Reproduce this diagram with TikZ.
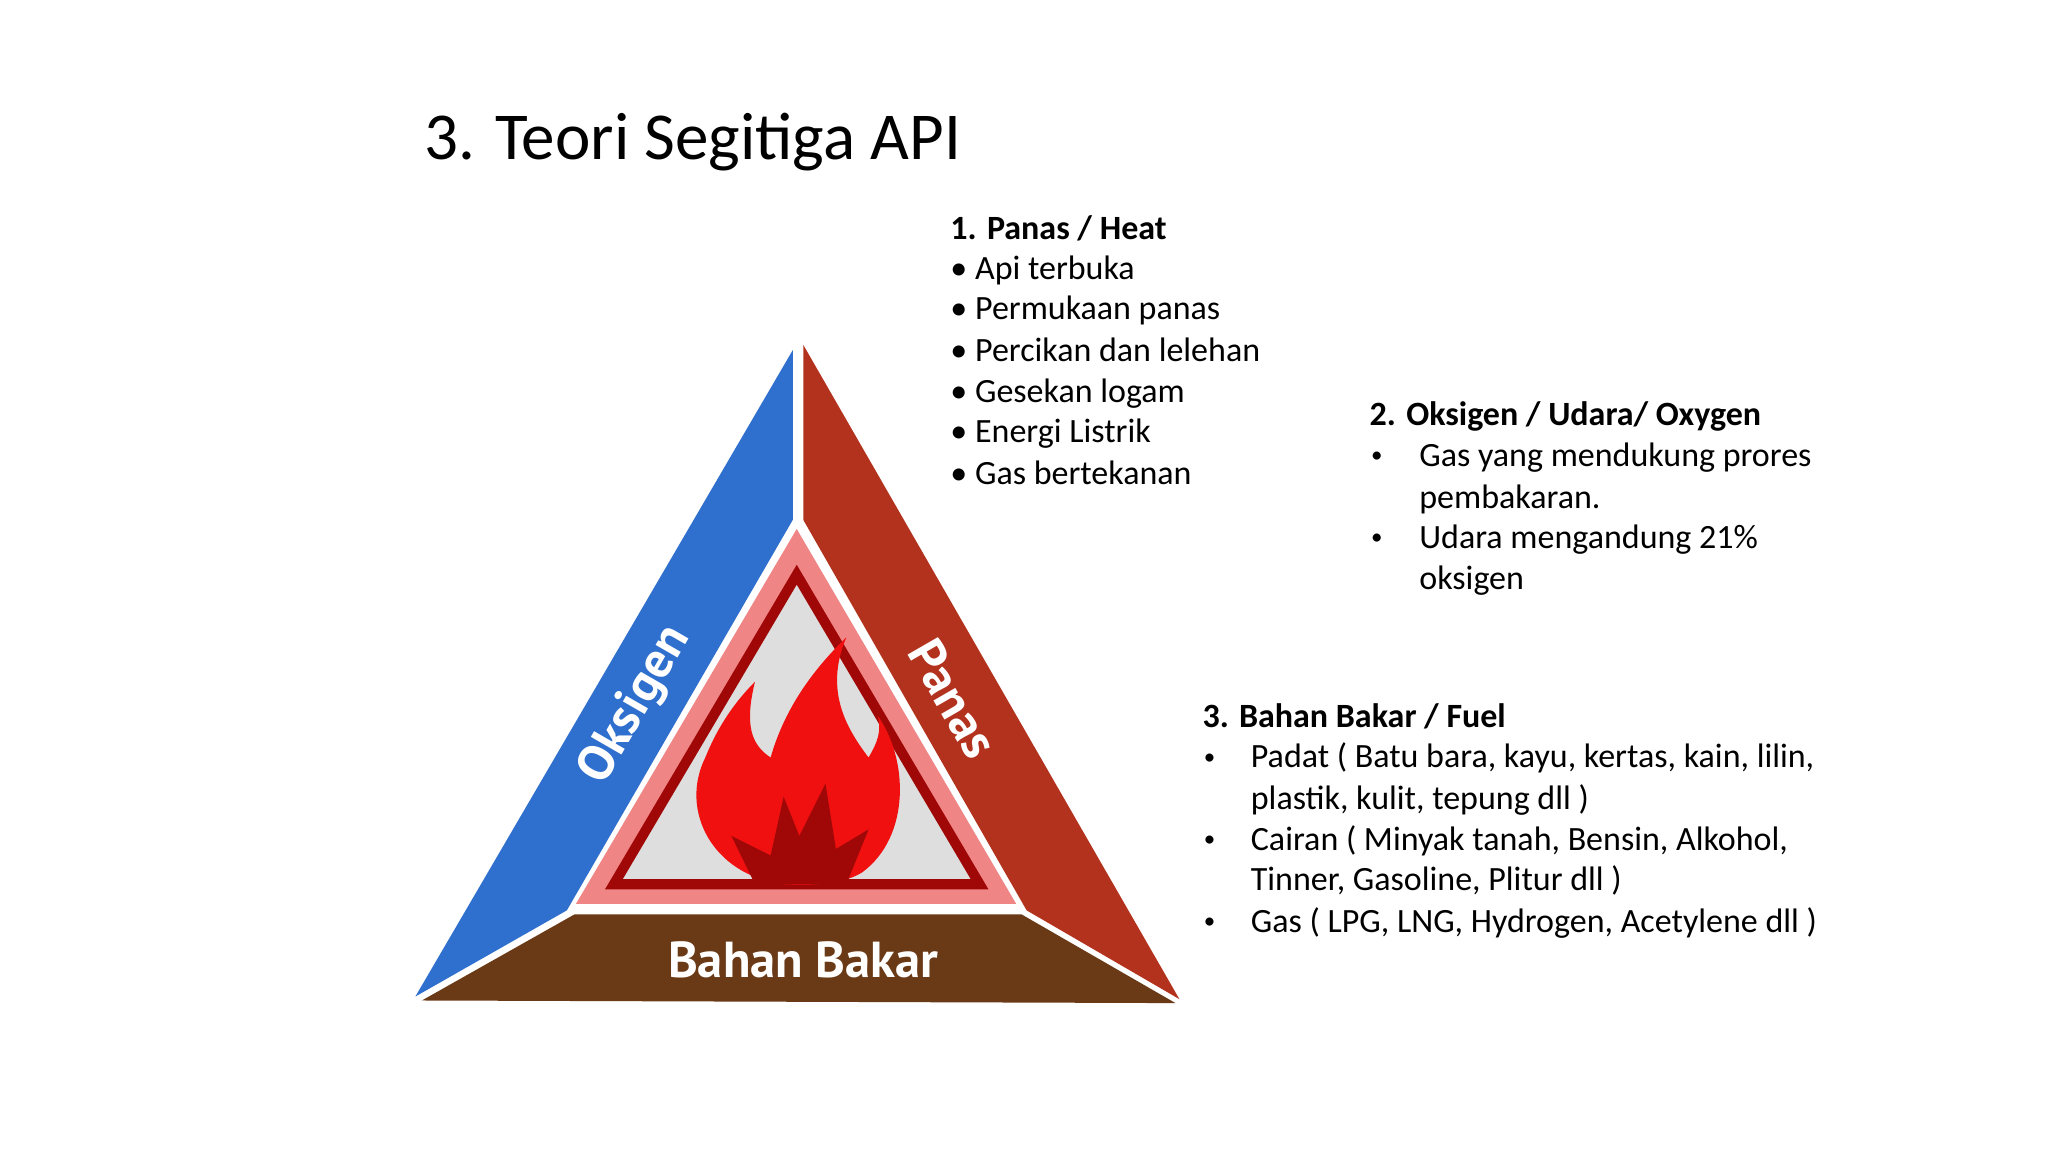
\documentclass[tikz,border=0pt]{standalone}
\usepackage{fontspec}
\setmainfont{Carlito}
\newfontfamily\labfont{PT Sans}
\begin{document}
\begin{tikzpicture}[x=0.01cm,y=-0.01cm,
  txt/.style={anchor=base west,inner sep=0,font=\fontsize{7.4pt}{8.5pt}\selectfont},
  lab/.style={text=white,font=\labfont\bfseries\fontsize{11pt}{12pt}\selectfont,inner sep=0}]
\definecolor{cblue}{HTML}{2F70CE}
\definecolor{cred}{HTML}{B3321E}
\definecolor{cbrown}{HTML}{6A3A17}
\definecolor{cpink}{HTML}{F08585}
\definecolor{cdark}{HTML}{A00808}
\definecolor{cgrey}{HTML}{DEDEDE}
\definecolor{cflame}{HTML}{F01010}
\newcommand{\smb}{{\fontsize{5pt}{6pt}\selectfont\textbullet}}
\useasboundingbox[fill=white] (0,0) rectangle (1568,882);
\node[anchor=base west,inner sep=0,font=\fontsize{14.6pt}{16pt}\selectfont] (title) at (324,122) {3. Teori Segitiga API};
% triangle bands
\fill[cblue] (607,268) -- (607,398) -- (434,697) -- (318,763) -- cycle;
\fill[cred] (615,264) -- (903,765) -- (786,697) -- (615,398) -- cycle;
\fill[cbrown] (323,766) -- (440,700) -- (782,700) -- (900,768) -- cycle;
\fill[cpink] (610,405) -- (778,692) -- (441,692) -- cycle;
\draw[cdark,line width=2.2pt,fill=cgrey,line join=miter] (610,440) -- (750,677) -- (470,677) -- cycle;
% flame
\fill[cflame] (600,677) .. controls (545,670) and (520,620) .. (540,580)
  .. controls (548,560) and (560,540) .. (578,522)
  .. controls (570,555) and (575,570) .. (590,580)
  .. controls (600,545) and (620,515) .. (648,488)
  .. controls (630,530) and (650,560) .. (665,580)
  .. controls (672,568) and (675,560) .. (672,548)
  .. controls (695,580) and (698,640) .. (660,668)
  .. controls (645,677) and (625,678) .. (600,677) -- cycle;
\fill[cdark] (578,677) -- (560,640) -- (590,655) -- (600,610) -- (612,640) -- (632,600) -- (640,650) -- (665,635) -- (648,677) -- cycle;
\node[lab,rotate=60] (oks) at (487,540) {Oksigen};
\node[lab,rotate=-60] (pan) at (730,535) {Panas};
\node[lab] (bah) at (615,735) {Bahan Bakar};
% text 1
\node[txt] (h1) at (727,183) {\bfseries 1. Panas / Heat};
\node[txt] (a1) at (727,214) {\textbullet\ Api terbuka};
\node[txt] (a2) at (727,245) {\textbullet\ Permukaan panas};
\node[txt] (a3) at (727,277) {\textbullet\ Percikan dan lelehan};
\node[txt] (a4) at (727,308) {\textbullet\ Gesekan logam};
\node[txt] (a5) at (727,339) {\textbullet\ Energi Listrik};
\node[txt] (a6) at (727,371) {\textbullet\ Gas bertekanan};
% text 2
\node[txt] (h2) at (1048,326) {\bfseries 2. Oksigen / Udara/ Oxygen};
\node[txt] (b1d) at (1049,354) {\smb};
\node[txt] (b1) at (1086,357) {Gas yang mendukung prores};
\node[txt] (b1b) at (1086,389) {pembakaran.};
\node[txt] (b2d) at (1049,417) {\smb};
\node[txt] (b2) at (1086,420) {Udara mengandung 21\%};
\node[txt] (b2b) at (1086,451) {oksigen};
% text 3
\node[txt] (h3) at (920,557) {\bfseries 3. Bahan Bakar / Fuel};
\node[txt] (c1d) at (921,585) {\smb};
\node[txt] (c1) at (957,588) {Padat ( Batu bara, kayu, kertas, kain, lilin,};
\node[txt] (c1b) at (957,620) {plastik, kulit, tepung dll )};
\node[txt] (c2d) at (921,648) {\smb};
\node[txt] (c2) at (957,651) {Cairan ( Minyak tanah, Bensin, Alkohol,};
\node[txt] (c2b) at (957,682) {Tinner, Gasoline, Plitur dll )};
\node[txt] (c3d) at (921,711) {\smb};
\node[txt] (c3) at (957,714) {Gas ( LPG, LNG, Hydrogen, Acetylene dll )};
\end{tikzpicture}
\end{document}
